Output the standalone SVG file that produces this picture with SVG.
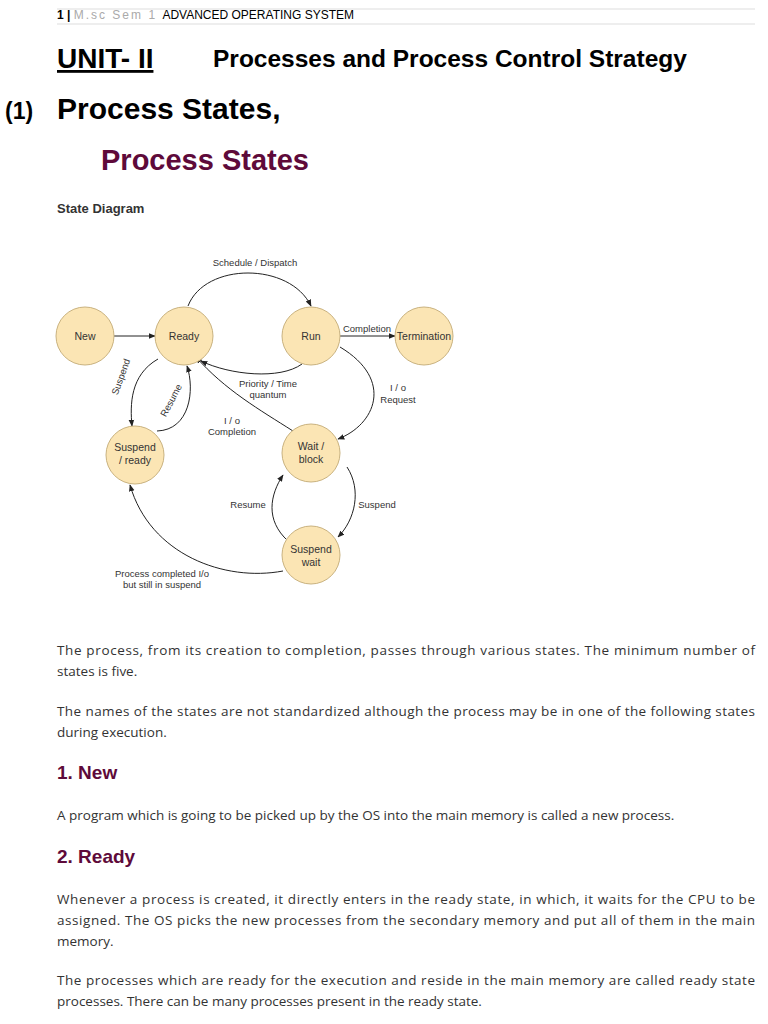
<svg xmlns="http://www.w3.org/2000/svg" width="768" height="1024" viewBox="0 0 768 1024">
<style>
.n{fill:#fbe5b4;stroke:#c9b27f;stroke-width:1}
.t{font-family:"Liberation Sans",Arial,sans-serif;font-size:10.5px;fill:#333;text-anchor:middle}
.l{font-family:"Liberation Sans",Arial,sans-serif;font-size:9.5px;fill:#333;text-anchor:middle}
.c{fill:none;stroke:#222;stroke-width:1;marker-end:url(#a)}
.b{font-family:"Open Sans","Liberation Sans",sans-serif;font-size:13.5px;fill:#333}
.h{font-family:"Liberation Sans",Arial,sans-serif;font-weight:bold;font-size:19px;fill:#5e0a3a}
</style>
<defs><marker id="a" viewBox="0 0 10 10" refX="9" refY="5" markerWidth="7" markerHeight="7" orient="auto"><path d="M0,1L10,5L0,9z" fill="#222"/></marker></defs>
<rect width="768" height="1024" fill="#fff"/>
<line x1="57" y1="9" x2="755" y2="9" stroke="#ddd"/>
<line x1="57" y1="24" x2="755" y2="24" stroke="#ddd"/>
<text x="57" y="19" font-family="Liberation Sans,sans-serif" font-size="12"><tspan font-weight="bold">1 | </tspan><tspan fill="#aaa" letter-spacing="2">M.sc Sem 1 </tspan><tspan> ADVANCED OPERATING SYSTEM</tspan></text>
<text x="57" y="68" font-family="Liberation Sans,sans-serif" font-weight="bold" font-size="28" text-decoration="underline">UNIT- II</text>
<text x="213" y="67" font-family="Liberation Sans,sans-serif" font-weight="bold" font-size="24.5">Processes and Process Control Strategy</text>
<text x="5" y="119" font-family="Liberation Sans,sans-serif" font-weight="bold" font-size="23">(1)</text>
<text x="57" y="119" font-family="Liberation Sans,sans-serif" font-weight="bold" font-size="30">Process States,</text>
<text x="101" y="170" font-family="Liberation Sans,sans-serif" font-weight="bold" font-size="29" fill="#5e0a3a">Process States</text>
<text x="57" y="213" font-family="Liberation Sans,sans-serif" font-weight="bold" font-size="13" fill="#333">State Diagram</text>
<g id="connectors">
<path class="c" d="M114,336H155"/>
<path class="c" d="M188,306C205,262 290,262 311,306"/>
<path class="c" d="M340,336H395"/>
<path class="c" d="M302,364C280,380 230,375 201,361"/>
<path class="c" d="M340,347C395,380 375,425 338,439"/>
<path class="c" d="M293,431C260,410 225,390 196,357"/>
<path class="c" d="M158,359C130,375 130,405 132,426"/>
<path class="c" d="M157,431C190,430 195,390 187,366"/>
<path class="c" d="M347,467C362,490 355,520 338,537"/>
<path class="c" d="M288,541C265,520 270,495 283,475"/>
<path class="c" d="M283,571C225,582 150,555 130,485"/>
</g>
<g class="l">
<text x="255" y="266">Schedule / Dispatch</text>
<text x="367" y="332">Completion</text>
<text x="268" y="387">Priority / Time</text><text x="268" y="398">quantum</text>
<text x="398" y="391">I / o</text><text x="398" y="403">Request</text>
<text x="232" y="424">I / o</text><text x="232" y="435">Completion</text>
<text x="248" y="508">Resume</text>
<text x="377" y="508">Suspend</text>
<text x="162" y="577">Process completed I/o</text><text x="162" y="588">but still in suspend</text>
<text transform="translate(124,378) rotate(-70)">Suspend</text>
<text transform="translate(174,402) rotate(-62)">Resume</text>
</g>
<g id="new"><circle class="n" cx="85" cy="336" r="29"/><text class="t" x="85" y="340">New</text></g>
<g id="ready"><circle class="n" cx="184" cy="336" r="29"/><text class="t" x="184" y="340">Ready</text></g>
<g id="run"><circle class="n" cx="311" cy="336" r="29"/><text class="t" x="311" y="340">Run</text></g>
<g id="termination"><circle class="n" cx="424" cy="336" r="29"/><text class="t" x="424" y="340">Termination</text></g>
<g id="suspend-ready"><circle class="n" cx="135" cy="455" r="29"/><text class="t" x="135" y="451">Suspend</text><text class="t" x="135" y="464">/ ready</text></g>
<g id="wait-block"><circle class="n" cx="311" cy="453" r="29"/><text class="t" x="311" y="450">Wait /</text><text class="t" x="311" y="463">block</text></g>
<g id="suspend-wait"><circle class="n" cx="311" cy="555" r="29"/><text class="t" x="311" y="553">Suspend</text><text class="t" x="311" y="566">wait</text></g>
<text class="b" x="57" y="655" textLength="698">The process, from its creation to completion, passes through various states. The minimum number of</text>
<text class="b" x="57" y="676">states is five.</text>
<text class="b" x="57" y="716" textLength="698">The names of the states are not standardized although the process may be in one of the following states</text>
<text class="b" x="57" y="737">during execution.</text>
<text class="h" x="57" y="779">1. New</text>
<text class="b" x="57" y="820">A program which is going to be picked up by the OS into the main memory is called a new process.</text>
<text class="h" x="57" y="863">2. Ready</text>
<text class="b" x="57" y="904" textLength="698">Whenever a process is created, it directly enters in the ready state, in which, it waits for the CPU to be</text>
<text class="b" x="57" y="925" textLength="698">assigned. The OS picks the new processes from the secondary memory and put all of them in the main</text>
<text class="b" x="57" y="946">memory.</text>
<text class="b" x="57" y="985" textLength="698">The processes which are ready for the execution and reside in the main memory are called ready state</text>
<text class="b" x="57" y="1006">processes. There can be many processes present in the ready state.</text>
</svg>
